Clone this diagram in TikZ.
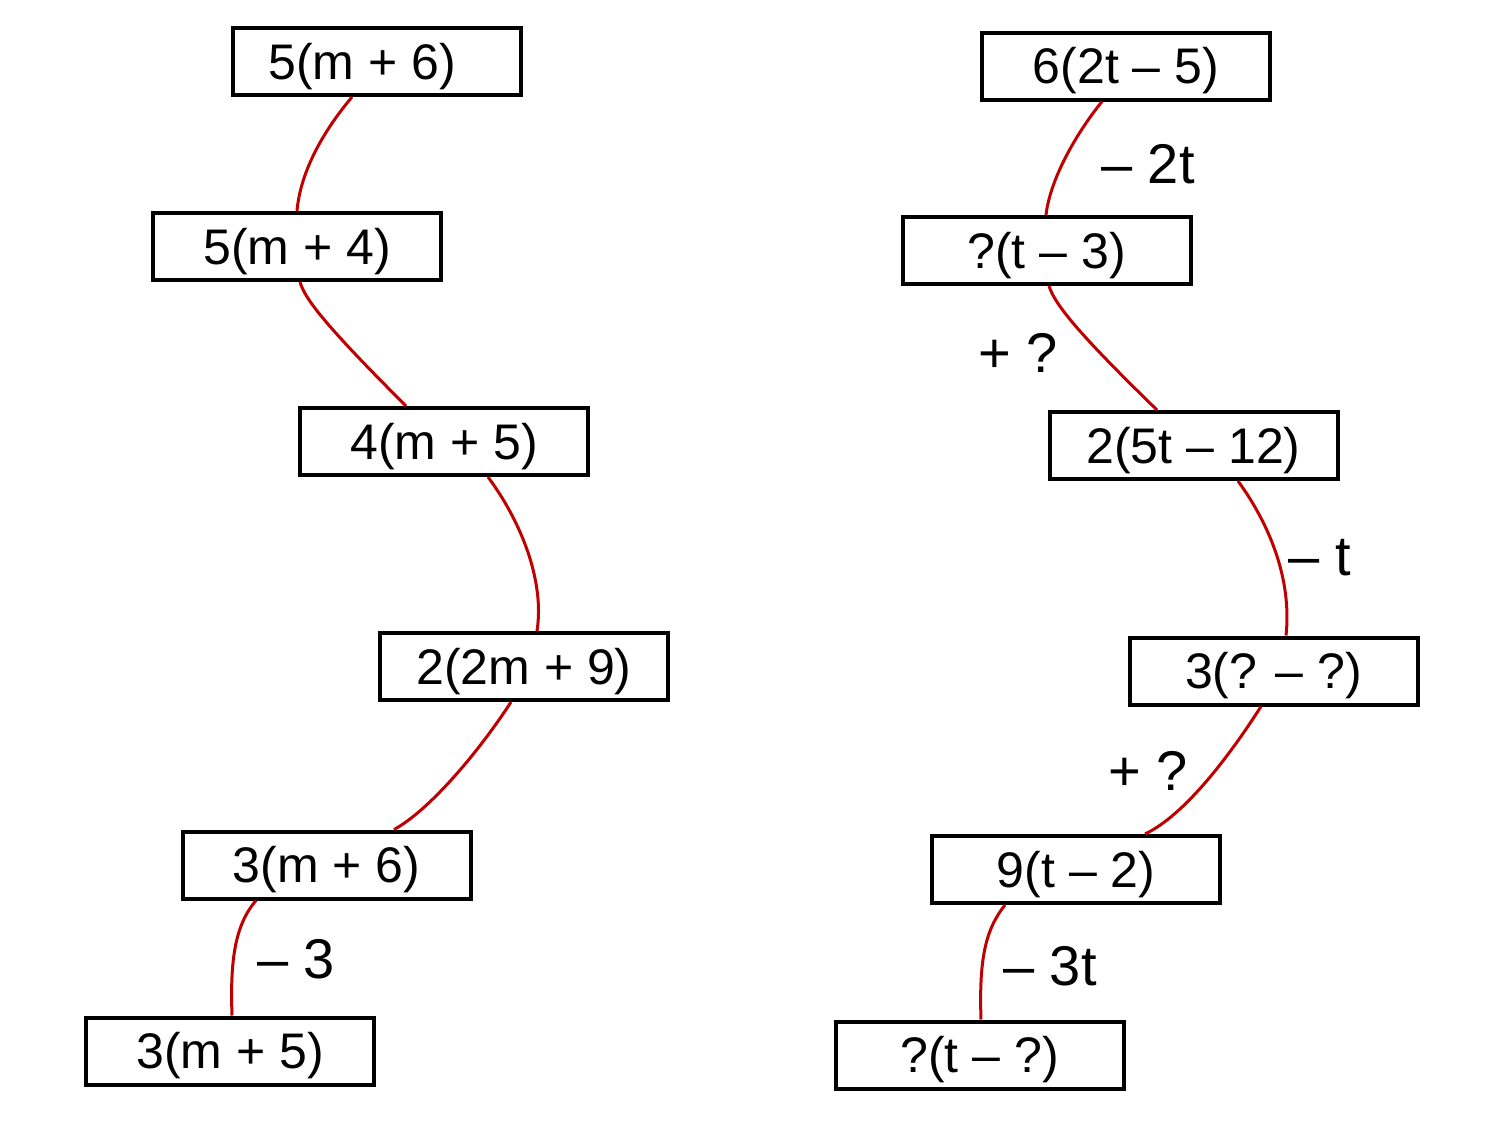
\documentclass[tikz,border=0pt]{standalone}
\usepackage{fontspec}
\setmainfont{Liberation Sans}
\definecolor{linkred}{RGB}{192,0,0}
\begin{document}
\begin{tikzpicture}[x=0.5pt,y=-0.5pt,
  exprbox/.style={draw=black,line width=2pt,minimum width=144pt,minimum height=33.5pt,inner sep=0pt,
    font=\fontsize{25}{29}\selectfont,text height=20pt,text depth=2.1pt},
  steplabel/.style={inner sep=0pt,font=\fontsize{28}{33}\selectfont,text height=22.4pt,text depth=2.35pt},
  link/.style={draw=linkred,line width=1.5pt}]
\useasboundingbox (0,0) rectangle (1500,1125);
% left column
\node[exprbox] (l1) at (376.5,61.5) {5(m + 6)\hspace*{14.5pt}};
\node[exprbox] (l2) at (297,246.5) {5(m + 4)};
\node[exprbox] (l3) at (444,441.5) {4(m + 5)};
\node[exprbox] (l4) at (524,666.5) {2(2m + 9)};
\node[exprbox] (l5) at (326.5,865) {3(m + 6)};
\node[exprbox] (l6) at (230,1051) {3(m + 5)};
% right column
\node[exprbox] (r1) at (1126,66) {6(2t – 5)};
\node[exprbox] (r2) at (1046.5,250.5) {?(t – 3)};
\node[exprbox] (r3) at (1193.5,445.5) {2(5t – 12)};
\node[exprbox] (r4) at (1273.5,671) {3(? – ?)};
\node[exprbox] (r5) at (1076,869.5) {9(t – 2)};
\node[exprbox] (r6) at (979.5,1055) {?(t – ?)};
% labels
\node[steplabel] (ml) at (296,958) {– 3};
\node[steplabel] (t1) at (1148,163) {– 2t};
\node[steplabel] (t2) at (1018,352) {+ ?};
\node[steplabel] (t3) at (1320,555) {– t};
\node[steplabel] (t4) at (1148,770) {+ ?};
\node[steplabel] (t5) at (1050,965) {– 3t};
% left links
\draw[link] (l1.south -| 352,0) .. controls (320,135) and (300,175) .. (l2.north -| 297,0);
\draw[link] (l2.south -| 300,0) .. controls (305,300) and (330,330) .. (l3.north -| 406,0);
\draw[link] (l3.south -| 488,0) .. controls (520,520) and (545,580) .. (l4.north -| 537,0);
\draw[link] (l4.south -| 511,0) .. controls (480,750) and (430,810) .. (l5.north -| 394,0);
\draw[link] (l5.south -| 256,0) .. controls (235,925) and (230,960) .. (l6.north -| 232,0);
% right links
\draw[link] (r1.south -| 1102,0) .. controls (1075,135) and (1050,180) .. (r2.north -| 1046,0);
\draw[link] (r2.south -| 1049,0) .. controls (1055,305) and (1080,335) .. (r3.north -| 1157,0);
\draw[link] (r3.south -| 1238,0) .. controls (1270,525) and (1292,580) .. (r4.north -| 1286,0);
\draw[link] (r4.south -| 1261,0) .. controls (1230,755) and (1185,815) .. (r5.north -| 1145,0);
\draw[link] (r5.south -| 1005,0) .. controls (985,930) and (979,960) .. (r6.north -| 981,0);
\end{tikzpicture}
\end{document}
